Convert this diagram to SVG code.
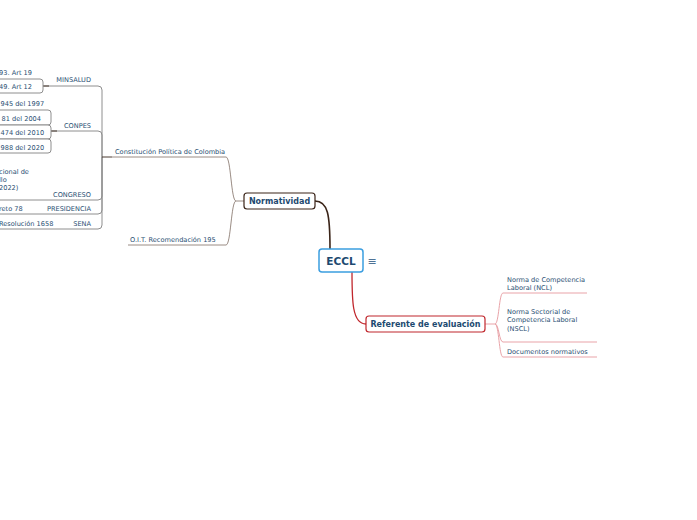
<svg xmlns="http://www.w3.org/2000/svg" width="697" height="520" viewBox="0 0 697 520">
<style>
.t{font-family:"DejaVu Sans",Verdana,sans-serif;font-size:6.6px;fill:#2a4f73}
.b{font-family:"DejaVu Sans",Verdana,sans-serif;font-weight:bold;fill:#1d4a70}
.g{fill:none;stroke:#8e8e8e;stroke-width:1}
.n{fill:none;stroke:#9a8c84;stroke-width:1}
.p{fill:none;stroke:#e9a3a8;stroke-width:1}
.box{fill:#fff;stroke:#8e8e8e;stroke-width:1}
</style>
<rect width="697" height="520" fill="#fff"/>
<g id="connectors">
  <path d="M315,201 C328,201 330,215 330,249" fill="none" stroke="#3a2418" stroke-width="1.6"/>
  <path d="M352,272 C352,300 352,324 366,324" fill="none" stroke="#c0272d" stroke-width="1.3"/>
  <path class="p" d="M485,324 L495,324 C499,324 499,293 503,293 L587,293"/>
  <path class="p" d="M495,324 C499,324 499,342 503,342 L597,342"/>
  <path class="p" d="M495,324 C499,324 499,357 503,357 L597,357"/>
  <path class="n" d="M244,201 L236,201 C231,201 231,157 226,157 L112,157"/>
  <path class="n" d="M236,201 C231,201 231,245 226,245 L128,245"/>
  <path class="g" d="M102,157 L102,90 Q102,86 98,86 L43,86"/>
  <path class="g" d="M102,157 L102,135 Q102,131 98,131 L51,131"/>
  <path class="g" d="M102,157 L102,196 Q102,200 98,200 L-2,200"/>
  <path class="g" d="M102,157 L102,210 Q102,214 98,214 L-2,214"/>
  <path class="g" d="M102,157 L102,225 Q102,229 98,229 L-2,229"/>
  <path d="M102,157 L112,157" stroke="#4a3a30" stroke-width="1"/>
  <path d="M43,86 L49,86" stroke="#4a3a30" stroke-width="1"/>
  <path d="M51,131 L57,131" stroke="#4a3a30" stroke-width="1"/>
</g>
<g id="eccl">
  <rect x="319" y="249" width="44" height="23" rx="3" fill="#fff" stroke="#3b9ee0" stroke-width="1.5"/>
  <text class="b" x="341" y="265" font-size="10.5" text-anchor="middle">ECCL</text>
  <text x="372" y="265" font-family="DejaVu Sans,sans-serif" font-size="11" fill="#4f7396" text-anchor="middle">≡</text>
</g>
<g id="normatividad">
  <rect x="244" y="193" width="71" height="16" rx="3" fill="#fff" stroke="#3a2418" stroke-width="1.2"/>
  <text class="b" x="279.5" y="204" font-size="8" text-anchor="middle">Normatividad</text>
</g>
<g id="referente">
  <rect x="366" y="316" width="119" height="16" rx="3" fill="#fff" stroke="#c0272d" stroke-width="1.2"/>
  <text class="b" x="425.5" y="327" font-size="8" text-anchor="middle">Referente de evaluación</text>
</g>
<g id="ncl"><text class="t" x="507" y="282">Norma de Competencia</text><text class="t" x="507" y="290">Laboral (NCL)</text></g>
<g id="nscl"><text class="t" x="507" y="313.5">Norma Sectorial de</text><text class="t" x="507" y="322">Competencia Laboral</text><text class="t" x="507" y="330.5">(NSCL)</text></g>
<g id="documentos"><text class="t" x="507" y="353.5">Documentos normativos</text></g>
<g id="constitucion"><text class="t" x="115" y="154">Constitución Política de Colombia</text></g>
<g id="oit"><text class="t" x="130" y="242">O.I.T. Recomendación 195</text></g>
<g id="minsalud"><text class="t" x="91" y="81.5" text-anchor="end">MINSALUD</text></g>
<g id="conpes"><text class="t" x="91" y="128" text-anchor="end">CONPES</text></g>
<g id="congreso"><text class="t" x="91" y="196.5" text-anchor="end">CONGRESO</text></g>
<g id="presidencia"><text class="t" x="91" y="210.5" text-anchor="end">PRESIDENCIA</text></g>
<g id="sena"><text class="t" x="91" y="225.5" text-anchor="end">SENA</text></g>
<g id="minsalud-1"><text class="t" x="32" y="74.5" text-anchor="end">93. Art 19</text></g>
<g id="minsalud-2"><rect class="box" x="-6" y="79" width="49" height="14" rx="3"/><text class="t" x="32" y="88.5" text-anchor="end">49. Art 12</text></g>
<g id="conpes-1"><text class="t" x="0.5" y="105.5">945 del 1997</text></g>
<g id="conpes-2"><rect class="box" x="-6" y="110" width="57" height="15" rx="3"/><text class="t" x="41" y="120.5" text-anchor="end">81 del 2004</text></g>
<g id="conpes-3"><rect class="box" x="-6" y="125" width="57" height="14" rx="3"/><text class="t" x="0.5" y="134.5">474 del 2010</text></g>
<g id="conpes-4"><rect class="box" x="-6" y="139" width="57" height="14" rx="3"/><text class="t" x="0.5" y="149.5">988 del 2020</text></g>
<g id="congreso-1"><text class="t" x="-1" y="173.5">cional de</text><text class="t" x="-1" y="181.5">llo</text><text class="t" x="-1" y="189.5">2022)</text></g>
<g id="presidencia-1"><text class="t" x="-1" y="210.5">reto 78</text></g>
<g id="sena-1"><text class="t" x="-1" y="225.5">Resolución 1658</text></g>
</svg>
